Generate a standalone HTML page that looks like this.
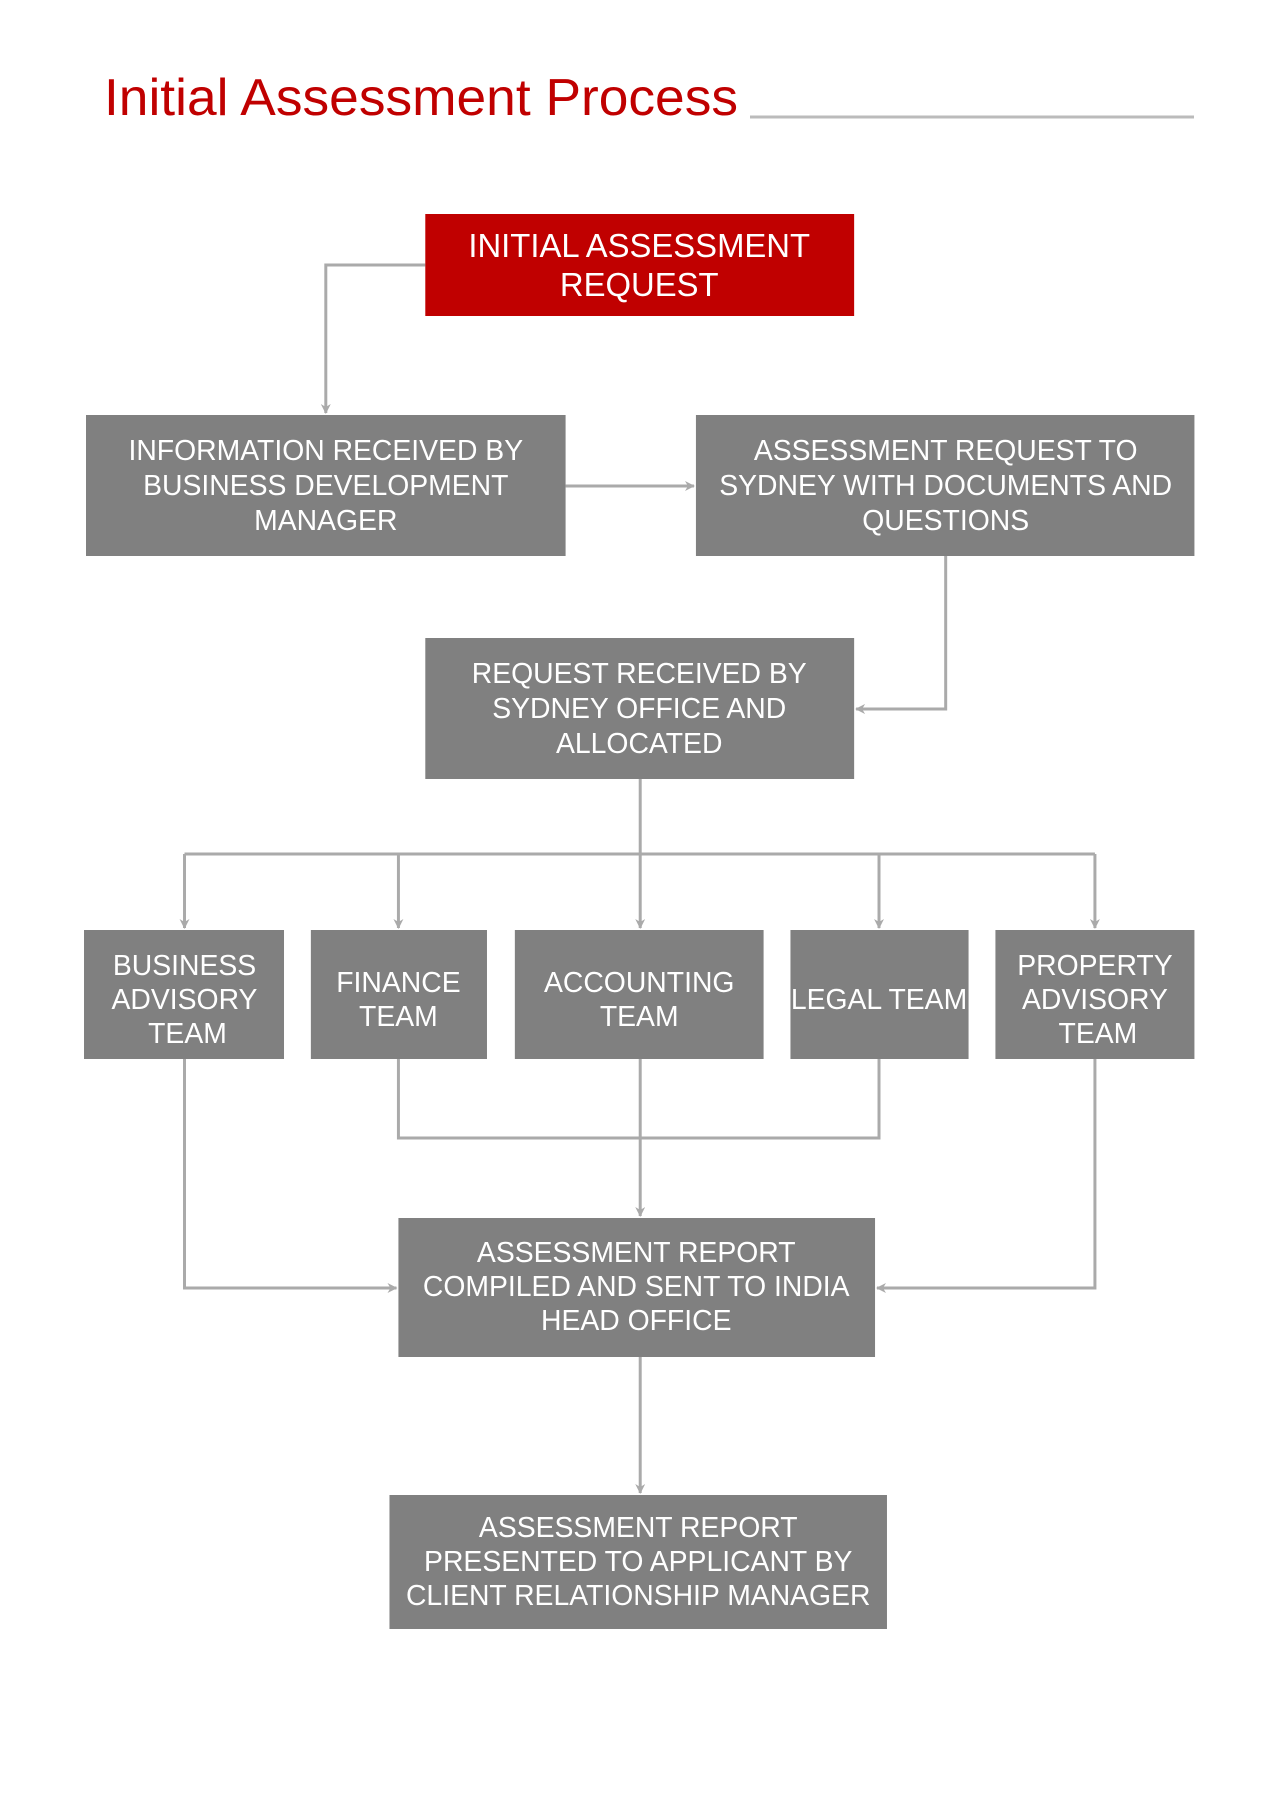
<!DOCTYPE html>
<html><head><meta charset="utf-8"><style>
html,body{margin:0;padding:0;background:#fff;}
svg{display:block;}
text{font-family:"Liberation Sans",Arial,sans-serif;}
.t{fill:#fff;font-size:28.5px;text-anchor:middle;}
.c{stroke:#aaaaaa;stroke-width:3;fill:none;}
</style></head><body>
<svg width="1273" height="1800" viewBox="0 0 1273 1800" xmlns="http://www.w3.org/2000/svg">
<defs><marker id="a" markerWidth="10" markerHeight="10" refX="9" refY="5" orient="auto" markerUnits="userSpaceOnUse"><path d="M0,0 L10,5 L0,10 L3,5 z" fill="#aaaaaa"/></marker></defs>
<text x="104" y="115" font-size="52" fill="#c00000" textLength="634" lengthAdjust="spacingAndGlyphs">Initial Assessment Process</text>
<line x1="750" y1="117" x2="1194" y2="117" stroke="#bbbbbb" stroke-width="3"/>
<g transform="translate(86,0) scale(0.995,1) translate(-86,0)">
<!-- connectors -->
<path class="c" d="M427,265 H327 V413" marker-end="url(#a)"/>
<path class="c" d="M568,486 H697" marker-end="url(#a)"/>
<path class="c" d="M950,556 V709 H860" marker-end="url(#a)"/>
<path class="c" d="M643,779 V854"/>
<path class="c" d="M185,854 H1100"/>
<path class="c" d="M185,854 V928" marker-end="url(#a)"/>
<path class="c" d="M400,854 V928" marker-end="url(#a)"/>
<path class="c" d="M643,854 V928" marker-end="url(#a)"/>
<path class="c" d="M883,854 V928" marker-end="url(#a)"/>
<path class="c" d="M1100,854 V928" marker-end="url(#a)"/>
<path class="c" d="M400,1059 V1138 H883 V1059"/>
<path class="c" d="M643,1059 V1216" marker-end="url(#a)"/>
<path class="c" d="M185,1059 V1288 H398" marker-end="url(#a)"/>
<path class="c" d="M1100,1059 V1288 H881" marker-end="url(#a)"/>
<path class="c" d="M643,1357 V1493" marker-end="url(#a)"/>

<!-- boxes -->
<rect x="427" y="214" width="431" height="102" fill="#c00000"/>
<text class="t" x="642" y="257" style="font-size:33px">INITIAL ASSESSMENT</text>
<text class="t" x="642" y="296" style="font-size:33px">REQUEST</text>

<rect x="86" y="415" width="482" height="141" fill="#808080"/>
<text class="t" x="327" y="460">INFORMATION RECEIVED BY</text>
<text class="t" x="327" y="495">BUSINESS DEVELOPMENT</text>
<text class="t" x="327" y="530">MANAGER</text>

<rect x="699" y="415" width="501" height="141" fill="#808080"/>
<text class="t" x="950" y="460">ASSESSMENT REQUEST TO</text>
<text class="t" x="950" y="495">SYDNEY WITH DOCUMENTS AND</text>
<text class="t" x="950" y="530">QUESTIONS</text>

<rect x="427" y="638" width="431" height="141" fill="#808080"/>
<text class="t" x="642" y="683">REQUEST RECEIVED BY</text>
<text class="t" x="642" y="718">SYDNEY OFFICE AND</text>
<text class="t" x="642" y="753">ALLOCATED</text>

<rect x="84" y="930" width="201" height="129" fill="#808080"/>
<text class="t" x="185" y="975">BUSINESS</text>
<text class="t" x="185" y="1009">ADVISORY</text>
<text class="t" x="188" y="1043">TEAM</text>

<rect x="312" y="930" width="177" height="129" fill="#808080"/>
<text class="t" x="400" y="992">FINANCE</text>
<text class="t" x="400" y="1026">TEAM</text>

<rect x="517" y="930" width="250" height="129" fill="#808080"/>
<text class="t" x="642" y="992">ACCOUNTING</text>
<text class="t" x="642" y="1026">TEAM</text>

<rect x="794" y="930" width="179" height="129" fill="#808080"/>
<text class="t" x="883" y="1009">LEGAL TEAM</text>

<rect x="1000" y="930" width="200" height="129" fill="#808080"/>
<text class="t" x="1100" y="975">PROPERTY</text>
<text class="t" x="1100" y="1009">ADVISORY</text>
<text class="t" x="1103" y="1043">TEAM</text>

<rect x="400" y="1218" width="479" height="139" fill="#808080"/>
<text class="t" x="639" y="1262">ASSESSMENT REPORT</text>
<text class="t" x="639" y="1296">COMPILED AND SENT TO INDIA</text>
<text class="t" x="639" y="1330">HEAD OFFICE</text>

<rect x="391" y="1495" width="500" height="134" fill="#808080"/>
<text class="t" x="641" y="1537">ASSESSMENT REPORT</text>
<text class="t" x="641" y="1571">PRESENTED TO APPLICANT BY</text>
<text class="t" x="641" y="1605">CLIENT RELATIONSHIP MANAGER</text>
</g>
</svg>
</body></html>
